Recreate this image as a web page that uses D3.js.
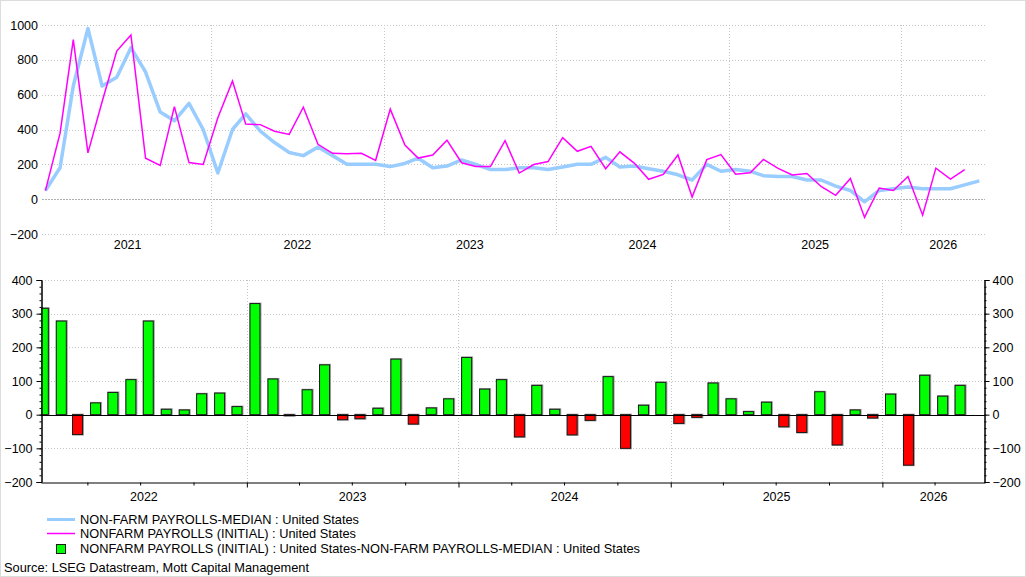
<!DOCTYPE html>
<html><head><meta charset="utf-8">
<script src="https://cdn.jsdelivr.net/npm/d3@7"></script>
<style>
body{margin:0;background:#fff}
svg text{font-family:"Liberation Sans",Arial,Helvetica,sans-serif;fill:#000}
</style>
</head><body>
<svg id="chart" width="1026" height="577"></svg>
<script>
// ---------- DATA ----------
const medianStart = "2021-01";
const medianValues = [
  50, 180, 650, 980, 650, 700, 870, 730, 500, 450, 550, 400,
  150, 400, 490, 391, 325, 268, 250, 300, 250, 200, 200, 200,
  187, 205, 235, 180, 190, 225, 200, 170, 170, 180, 180, 170,
  185, 200, 200, 240, 185, 190, 175, 160, 140, 110, 200, 160,
  170, 160, 135, 130, 130, 110, 110, 75, 50, -15, 50, 60,
  70, 60, 60, 60, 82, 105
];
const initialStart = "2021-01";
const initialValues = [
  49, 379, 916, 266, 559, 850, 943, 235, 194, 531, 210, 199,
  467, 678, 431, 428, 390, 372, 528, 315, 263, 261, 263, 223,
  517, 311, 236, 253, 339, 209, 187, 187, 336, 150, 199, 216,
  353, 275, 303, 175, 272, 206, 114, 142, 254, 12, 227, 256,
  143, 151, 228, 177, 139, 147, 73, 22, 119, -105, 64, 50,
  130, -92, 178, 115, 169
];
const diffStart = "2022-01";
const diffValues = [
  316, 278, -59, 35, 66, 104, 278, 16, 14, 62, 64, 24,
  330, 106, -3, 74, 148, -15, -12, 19, 165, -28, 20, 47,
  170, 76, 104, -66, 87, 16, -60, -17, 113, -100, 28, 96,
  -26, -8, 94, 47, 9, 37, -36, -53, 68, -90, 14, -10,
  61, -150, 117, 55, 87
];
const topYTicks = [-200, 0, 200, 400, 600, 800, 1000];
const bottomYTicks = [-200, -100, 0, 100, 200, 300, 400];
const topYears = [2021, 2022, 2023, 2024, 2025, 2026];
const bottomYears = [2022, 2023, 2024, 2025, 2026];
const legendLabels = [
  "NON-FARM PAYROLLS-MEDIAN : United States",
  "NONFARM PAYROLLS (INITIAL) : United States",
  "NONFARM PAYROLLS (INITIAL) : United States-NON-FARM PAYROLLS-MEDIAN : United States"
];
const sourceText = "Source: LSEG Datastream, Mott Capital Management";

// ---------- HELPERS ----------
function monthSeries(start, vals) {
  const [y, m] = start.split("-").map(Number);
  return vals.map((v, i) => ({ date: new Date(y, m - 1 + i, 15), value: v }));
}
const median = monthSeries(medianStart, medianValues);
const initial = monthSeries(initialStart, initialValues);
const diffs = monthSeries(diffStart, diffValues);

const svg = d3.select("#chart");
const endDate = new Date(2026, 5, 27);

svg.append("rect").attr("x", 0.5).attr("y", 0.5).attr("width", 1025).attr("height", 576)
  .attr("fill", "#fff").attr("stroke", "#dcdcdc");

const gridColor = "#c4c4c4";
const dash = "1,2";

// ---------- TOP CHART ----------
const tx = d3.scaleTime().domain([new Date(2021, 0, 12), endDate]).range([44, 985]);
const ty = d3.scaleLinear().domain([-200, 1000]).range([234, 25]);
const topG = svg.append("g");

topG.selectAll(".hg").data(topYTicks).join("line")
  .attr("x1", 42).attr("x2", 985)
  .attr("y1", d => Math.round(ty(d)) + 0.5).attr("y2", d => Math.round(ty(d)) + 0.5)
  .attr("stroke", d => d === 0 ? "#b0b0b0" : gridColor)
  .attr("stroke-dasharray", d => d === 0 ? "2,1" : dash);
topG.selectAll(".vg").data(topYears.slice(1)).join("line")
  .attr("x1", d => Math.round(tx(new Date(d, 0, 1))) + 0.5)
  .attr("x2", d => Math.round(tx(new Date(d, 0, 1))) + 0.5)
  .attr("y1", 25).attr("y2", 234)
  .attr("stroke", gridColor).attr("stroke-dasharray", dash);

const topAxis = topG.append("g").attr("transform", "translate(38,0)")
  .call(d3.axisLeft(ty).tickValues(topYTicks).tickSize(0).tickPadding(0).tickFormat(d3.format("d")));
topAxis.select(".domain").remove();
topAxis.selectAll("text").attr("font-size", 12.5).attr("font-family", "Liberation Sans, Arial, sans-serif");

topG.selectAll(".yl").data(topYears).join("text")
  .attr("x", d => {
    const a = Math.max(tx(new Date(d, 0, 1)), 44), b = Math.min(tx(new Date(d + 1, 0, 1)), 985);
    return (a + b) / 2;
  })
  .attr("y", 249).attr("text-anchor", "middle").attr("font-size", 12.5).text(d => d);

const line = (xs, ys) => d3.line().x(d => xs(d.date)).y(d => ys(d.value));
topG.append("path").datum(median).attr("d", line(tx, ty))
  .attr("fill", "none").attr("stroke", "#99ccff").attr("stroke-width", 3.5)
  .attr("stroke-linejoin", "round");
topG.append("path").datum(initial).attr("d", line(tx, ty))
  .attr("fill", "none").attr("stroke", "#ff00ff").attr("stroke-width", 1.5);

// ---------- BOTTOM CHART ----------
const bx = d3.scaleTime().domain([new Date(2022, 0, 11), endDate]).range([41, 985]);
const by = d3.scaleLinear().domain([-200, 400]).range([482, 280]);
const bot = svg.append("g");

bot.append("clipPath").attr("id", "bclip").append("rect")
  .attr("x", 41).attr("y", 270).attr("width", 944).attr("height", 220);

bot.selectAll(".hg").data(bottomYTicks.filter(d => d !== 0 && d !== -200)).join("line")
  .attr("x1", 42).attr("x2", 984)
  .attr("y1", d => Math.round(by(d)) + 0.5).attr("y2", d => Math.round(by(d)) + 0.5)
  .attr("stroke", gridColor).attr("stroke-dasharray", dash);
bot.selectAll(".vg").data(bottomYears.slice(1)).join("line")
  .attr("x1", d => Math.round(bx(new Date(d, 0, 1))) + 0.5)
  .attr("x2", d => Math.round(bx(new Date(d, 0, 1))) + 0.5)
  .attr("y1", 280).attr("y2", 482)
  .attr("stroke", gridColor).attr("stroke-dasharray", dash);

const barW = 10;
const bars = bot.append("g").attr("clip-path", "url(#bclip)");
bars.selectAll(".sh").data(diffs).join("rect")
  .attr("x", d => bx(d.date) - barW / 2 - 0.5)
  .attr("y", d => Math.min(by(d.value), by(0)) - 1)
  .attr("width", barW + 2)
  .attr("height", d => Math.abs(by(d.value) - by(0)) + 2)
  .attr("fill", "#a0a0a0");
bars.selectAll(".bar").data(diffs).join("rect")
  .attr("x", d => bx(d.date) - barW / 2)
  .attr("y", d => Math.min(by(d.value), by(0)))
  .attr("width", barW)
  .attr("height", d => Math.abs(by(d.value) - by(0)))
  .attr("fill", d => d.value >= 0 ? "#00ff00" : "#ff0000")
  .attr("stroke", "#1a1a1a").attr("stroke-width", 1);

bot.append("line").attr("x1", 41).attr("x2", 985)
  .attr("y1", Math.round(by(0)) + 0.5).attr("y2", Math.round(by(0)) + 0.5)
  .attr("stroke", "#000");

const minorY = d3.range(-200, 401, 20);
function styleAxis(g) {
  g.selectAll("text").attr("font-size", 12.5).attr("font-family", "Liberation Sans, Arial, sans-serif").attr("fill", "#000");
  g.selectAll("line").attr("stroke", "#000");
  g.select(".domain").attr("stroke", "#000");
}
const la = bot.append("g").attr("transform", "translate(41.5,0)")
  .call(d3.axisLeft(by).tickValues(minorY).tickSize(2).tickFormat(""));
styleAxis(la);
const la2 = bot.append("g").attr("transform", "translate(41.5,0)")
  .call(d3.axisLeft(by).tickValues(bottomYTicks).tickSize(5).tickPadding(4).tickFormat(d3.format("d")));
styleAxis(la2);
const ra = bot.append("g").attr("transform", "translate(984.5,0)")
  .call(d3.axisRight(by).tickValues(minorY).tickSize(2).tickFormat(""));
styleAxis(ra);
const ra2 = bot.append("g").attr("transform", "translate(984.5,0)")
  .call(d3.axisRight(by).tickValues(bottomYTicks).tickSize(5).tickPadding(3).tickFormat(d3.format("d")));
styleAxis(ra2);

const quarterTicks = d3.timeMonth.range(new Date(2022, 3, 1), endDate, 3).filter(d => d.getMonth() !== 0);
const yearTicks = bottomYears.slice(1).map(y => new Date(y, 0, 1));
const xa = bot.append("g").attr("transform", "translate(0,482.5)")
  .call(d3.axisBottom(bx).tickValues(quarterTicks).tickSize(3).tickFormat("").tickSizeOuter(0));
styleAxis(xa);
const xa2 = bot.append("g").attr("transform", "translate(0,482.5)")
  .call(d3.axisBottom(bx).tickValues(yearTicks).tickSize(5).tickFormat("").tickSizeOuter(0));
styleAxis(xa2);
xa2.select(".domain").remove();

bot.selectAll(".yl").data(bottomYears).join("text")
  .attr("x", d => {
    const a = Math.max(bx(new Date(d, 0, 1)), 41), b = Math.min(bx(new Date(d + 1, 0, 1)), 985);
    return (a + b) / 2;
  })
  .attr("y", 501).attr("text-anchor", "middle").attr("font-size", 12.5).text(d => d);

// ---------- LEGEND ----------
const leg = svg.append("g");
const legY = [519.5, 533.5, 548.5];
const legW = [279, 276, 560];
leg.append("line").attr("x1", 47).attr("x2", 75).attr("y1", legY[0]).attr("y2", legY[0])
  .attr("stroke", "#99ccff").attr("stroke-width", 3);
leg.append("line").attr("x1", 47).attr("x2", 75).attr("y1", legY[1]).attr("y2", legY[1])
  .attr("stroke", "#ff00ff").attr("stroke-width", 1.5);
leg.append("rect").attr("x", 56.5).attr("y", 544.5).attr("width", 9).attr("height", 9)
  .attr("fill", "#00ff00").attr("stroke", "#1a1a1a");
leg.selectAll(".lt").data(legendLabels).join("text")
  .attr("x", 80).attr("y", (d, i) => legY[i] + 4.5)
  .attr("font-size", 13)
  .attr("textLength", (d, i) => legW[i]).attr("lengthAdjust", "spacingAndGlyphs")
  .text(d => d);
svg.append("text").attr("x", 4).attr("y", 572).attr("font-size", 13)
  .attr("textLength", 305).attr("lengthAdjust", "spacingAndGlyphs").text(sourceText);
</script>
</body></html>
